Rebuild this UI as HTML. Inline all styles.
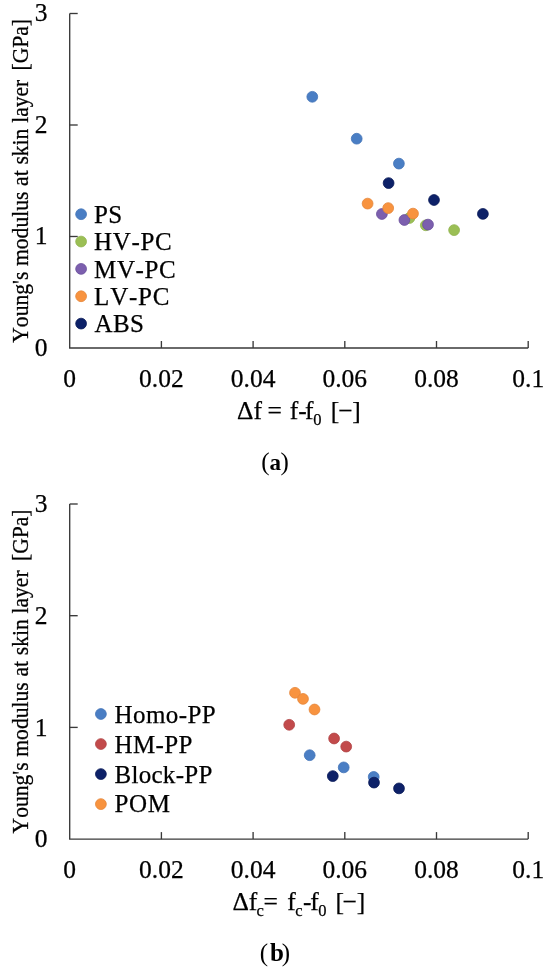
<!DOCTYPE html>
<html><head><meta charset="utf-8"><title>Young's modulus at skin layer vs. f - f0</title>
<style>
html,body{margin:0;padding:0;background:#fff;}
svg{display:block;}
text{font-family:"Liberation Serif","Times New Roman",serif;fill:#000;font-kerning:none;stroke:#000;stroke-width:0.25px;}
.t{font-size:25.5px;}
.yl{font-size:22px;}
.pn{stroke-width:0;}
</style></head>
<body>
<svg width="550" height="972" viewBox="0 0 550 972">
<rect width="550" height="972" fill="#fff"/>
<path d="M69.7 13.50V348.00H528.20" fill="none" stroke="#3a3a3a" stroke-width="1.35"/>
<text x="47.6" y="355.60" text-anchor="end" class="t">0</text>
<path d="M69.7 236.50H77.7" stroke="#3a3a3a" stroke-width="1.35"/>
<text x="47.6" y="244.10" text-anchor="end" class="t">1</text>
<path d="M69.7 125.00H77.7" stroke="#3a3a3a" stroke-width="1.35"/>
<text x="47.6" y="132.60" text-anchor="end" class="t">2</text>
<path d="M69.7 13.50H77.7" stroke="#3a3a3a" stroke-width="1.35"/>
<text x="47.6" y="21.10" text-anchor="end" class="t">3</text>
<text x="69.70" y="386.70" text-anchor="middle" class="t">0</text>
<path d="M161.40 348.00v-7" stroke="#3a3a3a" stroke-width="1.35"/>
<text x="161.40" y="386.70" text-anchor="middle" class="t">0.02</text>
<path d="M253.10 348.00v-7" stroke="#3a3a3a" stroke-width="1.35"/>
<text x="253.10" y="386.70" text-anchor="middle" class="t">0.04</text>
<path d="M344.80 348.00v-7" stroke="#3a3a3a" stroke-width="1.35"/>
<text x="344.80" y="386.70" text-anchor="middle" class="t">0.06</text>
<path d="M436.50 348.00v-7" stroke="#3a3a3a" stroke-width="1.35"/>
<text x="436.50" y="386.70" text-anchor="middle" class="t">0.08</text>
<path d="M528.20 348.00v-7" stroke="#3a3a3a" stroke-width="1.35"/>
<text x="528.20" y="386.70" text-anchor="middle" class="t">0.1</text>
<text transform="translate(27.8 343.00) scale(1.1 1) rotate(-90)" x="0.26" y="0" style="font-size:21.6px;word-spacing:0.341px">Young&#39;s modulus at skin layer <tspan x="272.52">[GPa]</tspan></text>
<text class="xl"><tspan x="237.03" y="419.10" style="font-size:25.5px">&#916;f</tspan><tspan x="267.43" y="419.10" style="font-size:25.5px">=</tspan><tspan x="289.72" y="419.10" style="font-size:25.5px">f-</tspan><tspan x="305.02" y="419.10" style="font-size:25.5px">f</tspan><tspan x="313.17" y="424.70" style="font-size:16.5px">0</tspan><tspan x="330.81" y="419.10" style="font-size:25.5px">[</tspan><tspan x="338.13" y="419.10" style="font-size:25.5px">&#8722;</tspan><tspan x="352.20" y="419.10" style="font-size:25.5px">]</tspan></text>
<text class="pn"><tspan x="261.20" y="470.30" style="font-size:25px">(</tspan><tspan x="269.56" y="470.30" style="font-size:23px" font-weight="bold">a</tspan><tspan x="280.47" y="470.30" style="font-size:25px">)</tspan></text>
<circle cx="312.3" cy="96.8" r="5.40" fill="#4a7ec4" stroke="#4374b8" stroke-width="0.8"/>
<circle cx="356.7" cy="138.7" r="5.40" fill="#4a7ec4" stroke="#4374b8" stroke-width="0.8"/>
<circle cx="398.9" cy="163.6" r="5.40" fill="#4a7ec4" stroke="#4374b8" stroke-width="0.8"/>
<circle cx="409.4" cy="218.0" r="5.40" fill="#9bbf55" stroke="#8fb24c" stroke-width="0.8"/>
<circle cx="425.8" cy="225.3" r="5.40" fill="#9bbf55" stroke="#8fb24c" stroke-width="0.8"/>
<circle cx="454.1" cy="230.1" r="5.40" fill="#9bbf55" stroke="#8fb24c" stroke-width="0.8"/>
<circle cx="381.9" cy="214.0" r="5.40" fill="#7c5fae" stroke="#6a4f9c" stroke-width="0.8"/>
<circle cx="404.4" cy="220.0" r="5.40" fill="#7c5fae" stroke="#6a4f9c" stroke-width="0.8"/>
<circle cx="428.0" cy="224.6" r="5.40" fill="#7c5fae" stroke="#6a4f9c" stroke-width="0.8"/>
<circle cx="367.6" cy="203.6" r="5.40" fill="#f8933f" stroke="#e48538" stroke-width="0.8"/>
<circle cx="388.2" cy="208.1" r="5.40" fill="#f8933f" stroke="#e48538" stroke-width="0.8"/>
<circle cx="413.0" cy="213.6" r="5.40" fill="#f8933f" stroke="#e48538" stroke-width="0.8"/>
<circle cx="388.6" cy="183.1" r="5.40" fill="#0d2168" stroke="#0a1a58" stroke-width="0.8"/>
<circle cx="434.0" cy="200.0" r="5.40" fill="#0d2168" stroke="#0a1a58" stroke-width="0.8"/>
<circle cx="482.9" cy="213.9" r="5.40" fill="#0d2168" stroke="#0a1a58" stroke-width="0.8"/>
<circle cx="81.1" cy="214.20" r="5.40" fill="#4a7ec4" stroke="#4374b8" stroke-width="0.8"/>
<text x="94.08" y="223.00" style="font-size:25px;letter-spacing:0.263px">PS</text>
<circle cx="81.1" cy="241.55" r="5.40" fill="#9bbf55" stroke="#8fb24c" stroke-width="0.8"/>
<text x="94.08" y="250.33" style="font-size:25px;letter-spacing:0.672px">HV-PC</text>
<circle cx="81.1" cy="268.90" r="5.40" fill="#7c5fae" stroke="#6a4f9c" stroke-width="0.8"/>
<text x="94.08" y="277.66" style="font-size:25px;letter-spacing:0.603px">MV-PC</text>
<circle cx="81.1" cy="296.25" r="5.40" fill="#f8933f" stroke="#e48538" stroke-width="0.8"/>
<text x="94.08" y="304.99" style="font-size:25px;letter-spacing:0.793px">LV-PC</text>
<circle cx="81.1" cy="323.60" r="5.40" fill="#0d2168" stroke="#0a1a58" stroke-width="0.8"/>
<text x="94.56" y="332.32" style="font-size:25px;letter-spacing:0.381px">ABS</text>
<path d="M69.7 504.00V839.10H528.20" fill="none" stroke="#3a3a3a" stroke-width="1.35"/>
<text x="47.6" y="847.20" text-anchor="end" class="t">0</text>
<path d="M69.7 727.40H77.7" stroke="#3a3a3a" stroke-width="1.35"/>
<text x="47.6" y="735.50" text-anchor="end" class="t">1</text>
<path d="M69.7 615.70H77.7" stroke="#3a3a3a" stroke-width="1.35"/>
<text x="47.6" y="623.80" text-anchor="end" class="t">2</text>
<path d="M69.7 504.00H77.7" stroke="#3a3a3a" stroke-width="1.35"/>
<text x="47.6" y="512.10" text-anchor="end" class="t">3</text>
<text x="69.70" y="877.80" text-anchor="middle" class="t">0</text>
<path d="M161.40 839.10v-7" stroke="#3a3a3a" stroke-width="1.35"/>
<text x="161.40" y="877.80" text-anchor="middle" class="t">0.02</text>
<path d="M253.10 839.10v-7" stroke="#3a3a3a" stroke-width="1.35"/>
<text x="253.10" y="877.80" text-anchor="middle" class="t">0.04</text>
<path d="M344.80 839.10v-7" stroke="#3a3a3a" stroke-width="1.35"/>
<text x="344.80" y="877.80" text-anchor="middle" class="t">0.06</text>
<path d="M436.50 839.10v-7" stroke="#3a3a3a" stroke-width="1.35"/>
<text x="436.50" y="877.80" text-anchor="middle" class="t">0.08</text>
<path d="M528.20 839.10v-7" stroke="#3a3a3a" stroke-width="1.35"/>
<text x="528.20" y="877.80" text-anchor="middle" class="t">0.1</text>
<text transform="translate(27.8 833.70) scale(1.1 1) rotate(-90)" x="0.26" y="0" style="font-size:21.6px;word-spacing:0.341px">Young&#39;s modulus at skin layer <tspan x="272.72">[GPa]</tspan></text>
<text class="xl"><tspan x="232.43" y="909.80" style="font-size:25.5px">&#916;f</tspan><tspan x="256.57" y="915.70" style="font-size:16.5px">c</tspan><tspan x="263.53" y="909.80" style="font-size:25.5px">=</tspan><tspan x="287.22" y="909.80" style="font-size:25.5px">f</tspan><tspan x="295.17" y="915.70" style="font-size:16.5px">c</tspan><tspan x="302.95" y="909.80" style="font-size:25.5px">-</tspan><tspan x="310.32" y="909.80" style="font-size:25.5px">f</tspan><tspan x="318.37" y="915.70" style="font-size:16.5px">0</tspan><tspan x="335.41" y="909.80" style="font-size:25.5px">[</tspan><tspan x="342.53" y="909.80" style="font-size:25.5px">&#8722;</tspan><tspan x="356.70" y="909.80" style="font-size:25.5px">]</tspan></text>
<text class="pn"><tspan x="259.80" y="961.30" style="font-size:25px">(</tspan><tspan x="269.98" y="961.30" style="font-size:25px" font-weight="bold">b</tspan><tspan x="281.87" y="961.30" style="font-size:25px">)</tspan></text>
<circle cx="309.7" cy="755.2" r="5.40" fill="#4a7ec4" stroke="#4374b8" stroke-width="0.8"/>
<circle cx="343.7" cy="767.4" r="5.40" fill="#4a7ec4" stroke="#4374b8" stroke-width="0.8"/>
<circle cx="373.7" cy="776.9" r="5.40" fill="#4a7ec4" stroke="#4374b8" stroke-width="0.8"/>
<circle cx="289.2" cy="724.8" r="5.40" fill="#c24a4b" stroke="#b04244" stroke-width="0.8"/>
<circle cx="334.1" cy="738.5" r="5.40" fill="#c24a4b" stroke="#b04244" stroke-width="0.8"/>
<circle cx="346.2" cy="746.6" r="5.40" fill="#c24a4b" stroke="#b04244" stroke-width="0.8"/>
<circle cx="332.8" cy="776.1" r="5.40" fill="#0d2168" stroke="#0a1a58" stroke-width="0.8"/>
<circle cx="374.0" cy="782.6" r="5.40" fill="#0d2168" stroke="#0a1a58" stroke-width="0.8"/>
<circle cx="399.0" cy="788.4" r="5.40" fill="#0d2168" stroke="#0a1a58" stroke-width="0.8"/>
<circle cx="295.0" cy="692.8" r="5.40" fill="#f8933f" stroke="#e48538" stroke-width="0.8"/>
<circle cx="303.0" cy="698.9" r="5.40" fill="#f8933f" stroke="#e48538" stroke-width="0.8"/>
<circle cx="314.5" cy="709.5" r="5.40" fill="#f8933f" stroke="#e48538" stroke-width="0.8"/>
<circle cx="100.9" cy="714.00" r="5.40" fill="#4a7ec4" stroke="#4374b8" stroke-width="0.8"/>
<text x="114.58" y="723.40" style="font-size:25px;letter-spacing:0.398px">Homo-PP</text>
<circle cx="100.9" cy="744.03" r="5.40" fill="#c24a4b" stroke="#b04244" stroke-width="0.8"/>
<text x="114.58" y="753.05" style="font-size:25px;letter-spacing:0.376px">HM-PP</text>
<circle cx="100.9" cy="774.06" r="5.40" fill="#0d2168" stroke="#0a1a58" stroke-width="0.8"/>
<text x="114.58" y="782.70" style="font-size:25px;letter-spacing:0.267px">Block-PP</text>
<circle cx="100.9" cy="804.09" r="5.40" fill="#f8933f" stroke="#e48538" stroke-width="0.8"/>
<text x="114.58" y="812.35" style="font-size:25px;letter-spacing:0.633px">POM</text>
</svg>
</body></html>
